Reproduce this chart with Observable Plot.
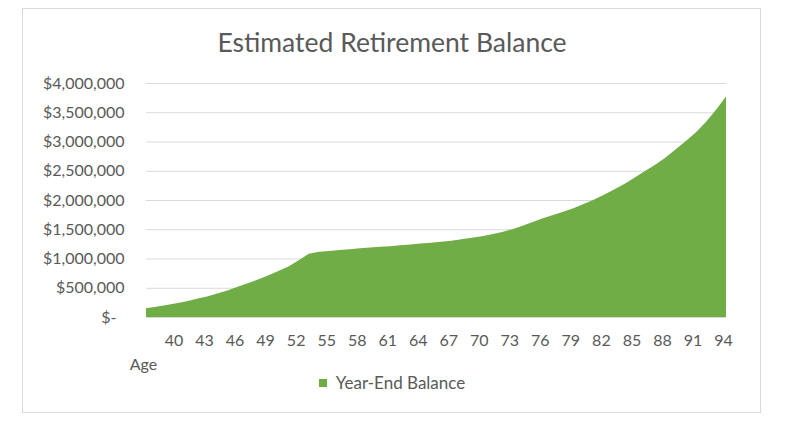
<!DOCTYPE html>
<html>
<head>
<meta charset="utf-8">
<script src="https://cdn.jsdelivr.net/npm/d3@7"></script>
<script src="https://cdn.jsdelivr.net/npm/@observablehq/plot@0.6"></script>
<style>
  html, body { margin: 0; padding: 0; background: #fff; }
  body { width: 794px; height: 428px; position: relative; overflow: hidden; font-family: Lato, "Open Sans", sans-serif; }
  #frame { position: absolute; left: 22px; top: 8px; width: 739px; height: 405px; border: 1px solid #d9d9d9; box-sizing: border-box; }
  #title { position: absolute; left: 22px; width: 740px; top: 26px; text-align: center; font-size: 26.5px; color: #595959; line-height: 32px; }
  #chart { position: absolute; left: 0; top: 60px; }
  #legend { position: absolute; left: 22px; width: 740px; top: 372px; text-align: center; font-size: 17px; color: #595959; line-height: 22px; }
  #legend .sw { display: inline-block; width: 8px; height: 8px; background: #70ad47; margin-right: 9px; vertical-align: 2px; }
</style>
</head>
<body>
<div id="frame"></div>
<div id="title">Estimated Retirement Balance</div>
<div id="chart"></div>
<div id="legend"><span class="sw"></span>Year-End Balance</div>
<script>
const ages = [37,38,39,40,41,42,43,44,45,46,47,48,49,50,51,52,53,54,55,56,57,58,59,60,61,62,63,64,65,66,67,68,69,70,71,72,73,74,75,76,77,78,79,80,81,82,83,84,85,86,87,88,89,90,91,92,93,94];
const balances = [150000,175000,205000,235000,270000,310000,350000,400000,455000,515000,575000,640000,710000,785000,865000,970000,1080000,1115000,1130000,1145000,1160000,1175000,1190000,1200000,1210000,1225000,1240000,1255000,1270000,1285000,1305000,1330000,1355000,1380000,1415000,1455000,1500000,1560000,1625000,1690000,1745000,1800000,1860000,1930000,2005000,2090000,2180000,2275000,2380000,2490000,2600000,2720000,2860000,3000000,3150000,3330000,3540000,3770000];
const xTicks = [40,43,46,49,52,55,58,61,64,67,70,73,76,79,82,85,88,91,94];
const yTicks = [0,500000,1000000,1500000,2000000,2500000,3000000,3500000,4000000];
const seriesName = "Year-End Balance";
const axisTitle = "Age";

const data = ages.map((a, i) => ({age: a, balance: balances[i]}));
const fmt = d3.format(",");

const plot = Plot.plot({
  width: 794,
  height: 320,
  marginLeft: 146,
  marginRight: 68,
  marginTop: 23,
  marginBottom: 63,
  style: {fontFamily: "Lato, 'Open Sans', sans-serif", fontSize: "16px", color: "#595959", background: "transparent", overflow: "visible"},
  x: {type: "linear", domain: [37, 94]},
  y: {domain: [0, 4000000]},
  marks: [
    Plot.gridY(yTicks, {stroke: "#d9d9d9", strokeOpacity: 1, strokeWidth: 1}),
    Plot.areaY(data, {x: "age", y: "balance", fill: "#70ad47"}),
    Plot.axisY(yTicks.filter(d => d !== 0), {tickSize: 0, tickPadding: 22, tickFormat: d => "$" + fmt(d), label: null}),
    Plot.axisY([0], {tickSize: 0, tickPadding: 30, tickFormat: () => "$-", label: null}),
    Plot.axisX(xTicks, {tickSize: 0, tickPadding: 17, dx: -3, tickFormat: d => String(d), label: null}),
    Plot.text([axisTitle], {x: () => 37, y: () => 0, text: d => d, dy: 47, dx: -3, fill: "#595959", fontSize: 16})
  ]
});
document.getElementById("chart").appendChild(plot);
document.getElementById("legend").lastChild.textContent = seriesName;
</script>
</body>
</html>
